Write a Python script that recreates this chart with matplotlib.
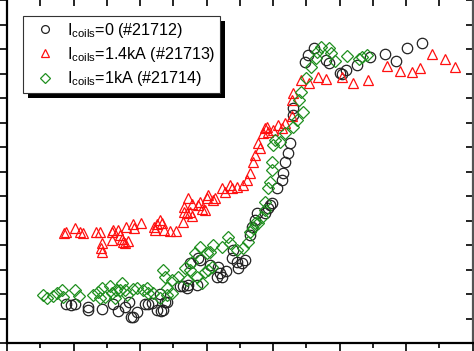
import matplotlib
matplotlib.use('Agg')
import matplotlib.pyplot as plt
from matplotlib.patches import Rectangle
from matplotlib.transforms import IdentityTransform
from matplotlib.ticker import MultipleLocator

# Icoils = 0 (#21712)
x_0 = [1.78, 1.93, 2.05, 2.44, 2.44, 2.86, 3.19, 3.34, 3.55, 3.67, 3.73, 3.80, 3.92,
       4.16, 4.25, 4.37, 4.52, 4.64, 4.70, 4.61, 4.76, 4.82, 5.21, 5.30, 5.42, 5.45,
       5.51, 5.72, 5.75, 5.81, 6.11, 6.33, 6.36, 6.42, 6.48, 6.60, 6.78, 6.81, 6.93,
       6.96, 7.08, 7.17, 7.32, 7.38, 7.47, 7.53, 7.77, 7.86, 7.92, 7.98, 8.13, 8.28,
       8.31, 8.37, 8.46, 8.52, 8.61, 8.61, 8.95, 9.04, 9.22, 9.58, 9.67, 10.00, 10.09,
       10.21, 10.54, 10.93, 11.36, 11.69, 12.02, 12.47]
y_0 = [1.59, 1.55, 1.59, 1.47, 1.35, 1.39, 1.59, 1.31, 1.47, 1.67, 1.06, 1.06, 1.27,
       1.59, 1.59, 1.63, 1.35, 1.31, 1.35, 2.00, 1.67, 1.67, 2.33, 2.33, 2.24, 2.37,
       3.27, 2.37, 3.47, 3.39, 3.18, 2.69, 3.10, 2.86, 2.69, 2.94, 3.47, 3.80, 3.31,
       3.06, 3.27, 3.39, 4.41, 4.73, 5.02, 5.31, 5.31, 5.51, 5.63, 5.71, 6.33, 6.65,
       6.94, 7.39, 7.76, 8.16, 9.31, 9.59, 11.47, 11.76, 12.04, 11.55, 11.43, 11.02, 10.98,
       11.14, 11.35, 11.67, 11.80, 11.51, 12.04, 12.24]

# Icoils = 1.4kA (#21713)
x_14 = [1.72, 1.78, 2.05, 2.20, 2.29, 2.68, 2.80, 2.83, 2.86, 2.86, 3.16, 3.19, 3.16,
        3.34, 3.40, 3.46, 3.49, 3.55, 3.58, 3.64, 3.80, 3.83, 4.04, 4.43, 4.46, 4.52,
        4.61, 4.67, 4.73, 4.91, 5.09, 5.30, 5.33, 5.33, 5.42, 5.45, 5.51, 5.57, 5.57,
        5.75, 5.81, 5.87, 5.96, 6.02, 6.05, 6.20, 6.27, 6.48, 6.57, 6.72, 6.78, 6.93,
        7.11, 7.23, 7.32, 7.41, 7.47, 7.56, 7.62, 7.71, 7.77, 7.83, 7.86, 8.01, 8.16,
        8.28, 8.37, 8.58, 8.58, 8.61, 8.83, 9.07, 9.34, 9.58, 10.09, 10.42, 10.87, 11.42,
        11.81, 12.17, 12.41, 12.77, 13.16, 13.46]
y_14 = [4.49, 4.53, 4.69, 4.53, 4.49, 4.53, 4.53, 3.88, 4.08, 3.71, 4.53, 4.61, 4.20,
        4.61, 4.41, 4.24, 4.12, 4.08, 4.73, 4.16, 4.86, 4.69, 4.90, 4.73, 4.61, 4.86,
        5.02, 4.90, 4.61, 4.57, 4.57, 4.94, 5.35, 5.55, 5.31, 5.92, 5.35, 5.18, 5.67,
        5.63, 5.76, 5.47, 5.43, 5.92, 6.04, 5.84, 5.92, 6.33, 6.16, 6.45, 6.33, 6.37,
        6.45, 6.65, 6.94, 7.39, 7.67, 8.16, 7.96, 8.57, 8.78, 8.82, 8.61, 8.69, 8.90,
        8.78, 8.98, 9.27, 9.92, 10.20, 10.73, 10.61, 10.86, 10.78, 10.86, 10.61, 10.73, 11.31,
        11.10, 11.06, 11.22, 11.80, 11.59, 11.27]

# Icoils = 1kA (#21714)
x_1 = [1.08, 1.20, 1.39, 1.51, 1.66, 1.69, 2.05, 2.17, 2.59, 2.74, 2.80, 2.86, 2.95,
       3.10, 3.16, 3.25, 3.28, 3.46, 3.40, 3.55, 3.61, 3.80, 3.92, 4.10, 4.22, 4.25,
       4.40, 4.61, 4.70, 4.76, 4.82, 4.82, 4.97, 4.97, 5.15, 5.36, 5.42, 5.51, 5.57,
       5.66, 5.72, 5.81, 5.87, 5.96, 6.02, 6.05, 6.11, 6.17, 6.20, 6.48, 6.66, 6.72,
       6.93, 7.11, 7.26, 7.32, 7.41, 7.47, 7.56, 7.68, 7.77, 7.77, 7.86, 7.92, 7.98,
       7.98, 8.01, 8.07, 8.22, 8.37, 8.61, 8.73, 8.77, 8.83, 8.89, 8.98, 9.13, 9.28,
       9.31, 9.43, 9.67, 9.73, 9.85, 10.24, 10.60, 10.69, 10.84]
y_1 = [1.96, 1.84, 1.92, 2.04, 2.16, 1.88, 2.16, 1.92, 1.96, 2.08, 1.84, 2.24, 1.88,
       2.33, 2.04, 1.84, 2.16, 2.45, 2.16, 2.16, 1.96, 2.20, 2.24, 2.16, 2.24, 2.04,
       2.04, 1.84, 2.98, 2.69, 2.24, 1.96, 2.04, 2.57, 2.69, 3.06, 2.57, 2.98, 3.31,
       3.67, 2.69, 3.92, 2.45, 2.90, 3.67, 2.98, 3.71, 3.10, 4.00, 3.92, 4.33, 4.08,
       3.80, 3.88, 4.12, 4.53, 4.69, 4.90, 4.90, 5.14, 5.43, 5.76, 6.33, 6.57, 7.06,
       7.39, 8.08, 8.29, 8.20, 8.57, 8.82, 9.10, 9.92, 10.24, 9.43, 10.82, 11.27, 11.63,
       11.88, 12.08, 12.04, 11.84, 11.51, 11.71, 11.59, 11.67, 11.76]

labels = [r'I$_{\mathrm{coils}}$=0 (#21712)',
          r'I$_{\mathrm{coils}}$=1.4kA (#21713)',
          r'I$_{\mathrm{coils}}$=1kA (#21714)']

plt.rcParams['font.family'] = ['Liberation Sans', 'DejaVu Sans']
plt.rcParams['mathtext.fontset'] = 'custom'
plt.rcParams['mathtext.rm'] = 'Liberation Sans'
plt.rcParams['mathtext.it'] = 'Liberation Sans'

width, height = 474, 351
dpi = 100
fig = plt.figure(figsize=(width / dpi, height / dpi), dpi=dpi)
ax = fig.add_axes([7 / width, 8 / height, 465.5 / width, 343 / height])

mk = dict(linestyle='none', markersize=7.5, markerfacecolor='none', markeredgewidth=0.9)
ax.plot(x_0, y_0, marker='o', color='#222222', label=labels[0], **mk)
ax.plot(x_14, y_14, marker='^', color='#ff1010', label=labels[1], **mk)
ax.plot(x_1, y_1, marker='D', color='#1f8f1f', label=labels[2],
        linestyle='none', markersize=6.5, markerfacecolor='none', markeredgewidth=0.9)

ax.set_xlim(0, 14)
ax.set_ylim(0, 14)

ax.xaxis.set_major_locator(MultipleLocator(2))
ax.xaxis.set_minor_locator(MultipleLocator(1))
ax.yaxis.set_major_locator(MultipleLocator(1))
ax.tick_params(axis='x', which='major', direction='out', length=6, width=1.2, labelbottom=False)
ax.tick_params(axis='x', which='minor', direction='out', length=3.5, width=1.2)
ax.tick_params(axis='y', which='major', direction='out', length=5, width=1.2, labelleft=False)

top = ax.secondary_xaxis('top')
top.xaxis.set_major_locator(MultipleLocator(1))
top.tick_params(direction='in', length=4, width=1.2, labeltop=False)
top.spines['top'].set_visible(False)

right = ax.secondary_yaxis('right')
right.yaxis.set_major_locator(MultipleLocator(1))
right.tick_params(direction='in', length=5, width=1.2, labelright=False)
right.spines['right'].set_linewidth(1.6)
right.spines['right'].set_color('#555555')

ax.spines['top'].set_visible(False)
ax.spines['right'].set_visible(False)
ax.spines['left'].set_linewidth(1.6)
ax.spines['bottom'].set_linewidth(1.6)

leg = ax.legend(loc='upper left', bbox_to_anchor=(0.034, 0.953), borderaxespad=0,
                fontsize=11.6, frameon=True, fancybox=False, framealpha=1,
                handlelength=2.2, handletextpad=0.25, borderpad=0.3, labelspacing=0.32,
                markerscale=0.75)
leg.get_frame().set_edgecolor('#333333')
leg.get_frame().set_linewidth(0.8)
leg.set_zorder(5)

# drop shadow behind the legend box
fig.canvas.draw()
bb = leg.get_window_extent()
shadow = Rectangle((bb.x0 + 5, bb.y0 - 5), bb.width, bb.height,
                   transform=IdentityTransform(), facecolor='black',
                   edgecolor='none', zorder=4.5, clip_on=False)
ax.add_artist(shadow)

fig.savefig('out.png', dpi=dpi)
